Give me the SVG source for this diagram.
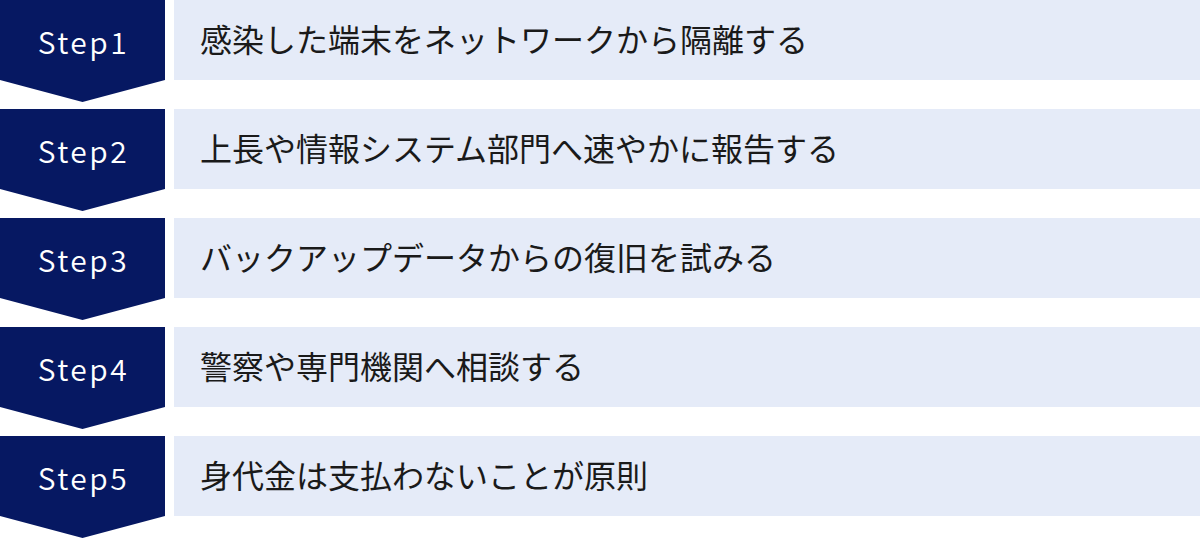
<svg xmlns="http://www.w3.org/2000/svg" width="1200" height="538" viewBox="0 0 1200 538">
<style>
.step{fill:#061862}
.box{fill:#e5ebf8}
.lbl{font-family:"Noto Sans CJK JP","Noto Sans",sans-serif;font-size:30px;font-weight:350;fill:#ffffff;text-anchor:middle;letter-spacing:2.5px}
.txt{font-family:"Noto Sans CJK JP","Noto Sans",sans-serif;font-size:32px;fill:#1a1a1a}
</style>
<rect width="1200" height="538" fill="#ffffff"/>
<g id="connectors"></g>
<g id="step1">
<polygon class="step" points="0,0 165,0 165,80 82.5,102 0,80"/>
<rect class="box" x="174" y="0" width="1026" height="80"/>
<text class="lbl" x="83.5" y="53.5">Step1</text>
<text class="txt" x="200" y="52">感染した端末をネットワークから隔離する</text>
</g>
<g id="step2">
<polygon class="step" points="0,109 165,109 165,189 82.5,211 0,189"/>
<rect class="box" x="174" y="109" width="1026" height="80"/>
<text class="lbl" x="83.5" y="162.5">Step2</text>
<text class="txt" x="200" y="161">上長や情報システム部門へ速やかに報告する</text>
</g>
<g id="step3">
<polygon class="step" points="0,218 165,218 165,298 82.5,320 0,298"/>
<rect class="box" x="174" y="218" width="1026" height="80"/>
<text class="lbl" x="83.5" y="271.5">Step3</text>
<text class="txt" x="200" y="270">バックアップデータからの復旧を試みる</text>
</g>
<g id="step4">
<polygon class="step" points="0,327 165,327 165,407 82.5,429 0,407"/>
<rect class="box" x="174" y="327" width="1026" height="80"/>
<text class="lbl" x="83.5" y="380.5">Step4</text>
<text class="txt" x="200" y="379">警察や専門機関へ相談する</text>
</g>
<g id="step5">
<polygon class="step" points="0,436 165,436 165,516 82.5,538 0,516"/>
<rect class="box" x="174" y="436" width="1026" height="80"/>
<text class="lbl" x="83.5" y="489.5">Step5</text>
<text class="txt" x="200" y="488">身代金は支払わないことが原則</text>
</g>
</svg>
